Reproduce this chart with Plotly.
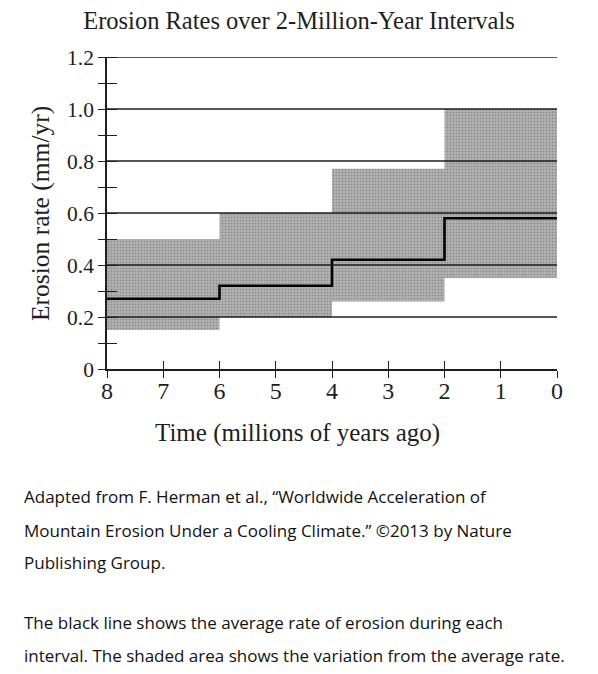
import plotly.graph_objects as go

# interval edges in millions of years ago (left to right on the chart)
time_edges = [8, 6, 4, 2, 0]
avg_rate = [0.27, 0.32, 0.42, 0.58]
low_rate = [0.15, 0.20, 0.26, 0.35]
high_rate = [0.50, 0.60, 0.77, 1.00]

y_ticks = [0, 0.2, 0.4, 0.6, 0.8, 1.0, 1.2]
y_labels = ['0', '0.2', '0.4', '0.6', '0.8', '1.0', '1.2']
x_ticks = [8, 7, 6, 5, 4, 3, 2, 1, 0]

title = 'Erosion Rates over 2-Million-Year Intervals'
x_title = 'Time (millions of years ago)'
y_title = 'Erosion rate (mm/yr)'
caption = [
    'Adapted from F. Herman et al., \u201cWorldwide Acceleration of',
    'Mountain Erosion Under a Cooling Climate.\u201d \u00a92013 by Nature',
    'Publishing Group.',
    '',
    'The black line shows the average rate of erosion during each',
    'interval. The shaded area shows the variation from the average rate.',
]

serif = 'Liberation Serif'
sans = 'Open Sans'
ink = '#1e1e1e'

# page has an 8px body margin, so the figure starts at (8, 8)
OFF = 8
W, H = 598 - OFF, 674 - 2 * OFF
L, T = 107 - OFF, 57 - OFF
R = W - (557 - OFF)
B = H - (369 - OFF)
plot_h = H - T - B
plot_w = W - L - R


def step(vals):
    # repeat last value so the hv step reaches the final edge
    return vals + [vals[-1]]


fig = go.Figure()

fig.add_trace(go.Scatter(x=time_edges, y=step(low_rate), mode='lines',
                         line=dict(width=0, shape='hv'), hoverinfo='skip',
                         showlegend=False))
fig.add_trace(go.Scatter(x=time_edges, y=step(high_rate), mode='lines',
                         line=dict(width=0, shape='hv'), fill='tonexty',
                         fillcolor='#a8a8a8',
                         fillpattern=dict(shape='.', bgcolor='#b3b3b3', fgcolor='#6a6a6a',
                                          size=3, solidity=0.35),
                         hoverinfo='skip', showlegend=False))
fig.add_trace(go.Scatter(x=time_edges, y=step(avg_rate), mode='lines',
                         line=dict(width=2.6, color='black', shape='hv'),
                         showlegend=False, cliponaxis=False))

# gridlines above the shading
for v in y_ticks[1:]:
    fig.add_shape(type='line', xref='paper', x0=0, x1=1, yref='y', y0=v, y1=v,
                  line=dict(color=ink, width=1.6), layer='above')

fig.update_layout(
    width=W, height=H,
    margin=dict(l=L, r=R, t=T, b=B),
    paper_bgcolor='white', plot_bgcolor='white',
    title=dict(text=title, x=(299 - OFF) / W, xanchor='center',
               yref='container', y=1, yanchor='top', pad=dict(t=4),
               font=dict(family=serif, size=24.5, color=ink)),
    xaxis=dict(range=[8, 0], tickvals=x_ticks, ticks='outside', ticklen=7,
               tickwidth=1.4, tickcolor=ink, showline=True, linecolor=ink,
               linewidth=1.6, showgrid=False, zeroline=False,
               tickfont=dict(family=serif, size=24, color=ink), ticklabelstandoff=-8),
    yaxis=dict(range=[0, 1.2], tickvals=y_ticks, ticktext=y_labels, ticks='outside',
               ticklen=7, tickwidth=1.4, tickcolor=ink, showline=True, linecolor=ink,
               linewidth=1.6, showgrid=False, zeroline=False,
               tickfont=dict(family=serif, size=21.5, color=ink),
               minor=dict(dtick=0.1, tick0=0, ticks='outside', ticklen=7,
                          tickwidth=1.4, tickcolor=ink, showgrid=False)),
    xaxis2=dict(range=[8, 0], overlaying='x', anchor='y', side='bottom',
                tickvals=x_ticks, ticks='inside', ticklen=8, tickwidth=1.4,
                tickcolor=ink, showticklabels=False, showgrid=False,
                zeroline=False, showline=False),
    yaxis2=dict(range=[0, 1.2], overlaying='y', anchor='x', side='left',
                tickvals=[], showticklabels=False, showgrid=False,
                zeroline=False, showline=False,
                minor=dict(dtick=0.1, tick0=0, ticks='inside', ticklen=10,
                           tickwidth=1.4, tickcolor=ink, showgrid=False)),
)

# invisible trace so the overlay axes are drawn
fig.add_trace(go.Scatter(x=[4], y=[0.6], xaxis='x2', yaxis='y2', mode='markers',
                         marker=dict(opacity=0), hoverinfo='skip', showlegend=False))


def py(page_y):
    return (H - B - (page_y - OFF)) / plot_h


def pxx(page_x):
    return (page_x - OFF - L) / plot_w


fig.add_annotation(text=x_title, xref='paper', yref='paper', x=pxx(297), y=py(433),
                   xanchor='center', yanchor='middle', showarrow=False,
                   font=dict(family=serif, size=25, color=ink))
fig.add_annotation(text=y_title, xref='paper', yref='paper', x=pxx(40), y=py(214),
                   xanchor='center', yanchor='middle', showarrow=False, textangle=-90,
                   font=dict(family=serif, size=25.5, color=ink))

line_y = [497, 530, 562, 595, 622, 655]
for text, yy in zip(caption, line_y):
    if not text:
        continue
    fig.add_annotation(text=text, xref='paper', yref='paper', x=pxx(22), y=py(yy),
                       xanchor='left', yanchor='middle', showarrow=False,
                       font=dict(family=sans, size=17, color='#111111'))

fig.write_html('out.html')
